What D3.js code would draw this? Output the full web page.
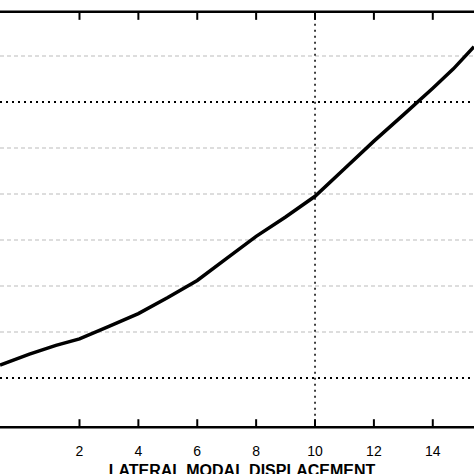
<!DOCTYPE html>
<html>
<head>
<meta charset="utf-8"/>
<script src="https://cdnjs.cloudflare.com/ajax/libs/d3/7.8.5/d3.min.js"></script>
<style>body{margin:0;background:#fff}svg{display:block}</style>
</head>
<body>
<svg width="474" height="474"></svg>
<script>
var xTicks = [2, 4, 6, 8, 10, 12, 14];
var gridY = [1, 2, 3, 4, 5, 7];
var strongY = [0, 6];
var curveX = [-0.7, 0.3, 1.2, 2, 3, 4, 5, 6, 7, 8, 9, 10, 11, 12, 13, 14, 14.7, 15.4];
var curveY = [0.28, 0.52, 0.71, 0.85, 1.12, 1.4, 1.75, 2.12, 2.6, 3.08, 3.5, 3.95, 4.55, 5.15, 5.72, 6.3, 6.72, 7.2];

var svg = d3.select("svg");
var x = d3.scaleLinear().domain([-0.7, 15.4]).range([0, 474]);
var y = d3.scaleLinear().domain([0, 1]).range([378, 332]);
var axTop = y(7.96), axBot = y(-1.07);

svg.selectAll(".g").data(gridY).enter().append("line")
  .attr("x1", 0).attr("x2", 474).attr("y1", d => y(d)).attr("y2", d => y(d))
  .attr("stroke", "#bbb").attr("stroke-width", 1).attr("stroke-dasharray", "4,3");
svg.selectAll(".s").data(strongY).enter().append("line")
  .attr("x1", 0).attr("x2", 474).attr("y1", d => y(d)).attr("y2", d => y(d))
  .attr("stroke", "#000").attr("stroke-width", 2).attr("stroke-dasharray", "2,4");
svg.append("line").attr("x1", x(10)).attr("x2", x(10)).attr("y1", axTop).attr("y2", axBot)
  .attr("stroke", "#000").attr("stroke-width", 1.5).attr("stroke-dasharray", "2,4");

[axTop, axBot].forEach(function(py) {
  svg.append("line").attr("x1", 0).attr("x2", 474).attr("y1", py).attr("y2", py)
    .attr("stroke", "#000").attr("stroke-width", 2.5);
});
svg.selectAll(".tt").data(xTicks).enter().append("line")
  .attr("x1", d => x(d)).attr("x2", d => x(d)).attr("y1", axTop).attr("y2", axTop + 8)
  .attr("stroke", "#000").attr("stroke-width", 2);
svg.selectAll(".bt").data(xTicks).enter().append("line")
  .attr("x1", d => x(d)).attr("x2", d => x(d)).attr("y1", axBot).attr("y2", axBot - 8)
  .attr("stroke", "#000").attr("stroke-width", 2);
svg.selectAll(".tl").data(xTicks).enter().append("text")
  .attr("x", d => x(d)).attr("y", 456).attr("text-anchor", "middle")
  .attr("font-family", "Liberation Sans, Arial").attr("font-size", 14)
  .text(d => d);
svg.append("text").attr("x", 242).attr("y", 476).attr("text-anchor", "middle")
  .attr("font-family", "Liberation Sans, Arial").attr("font-weight", "bold").attr("font-size", 16)
  .text("LATERAL MODAL DISPLACEMENT");

var line = d3.line().x((d, i) => x(curveX[i])).y(d => y(d));
svg.append("path").attr("d", line(curveY)).attr("fill", "none")
  .attr("stroke", "#000").attr("stroke-width", 3.5);
</script>
</body>
</html>
